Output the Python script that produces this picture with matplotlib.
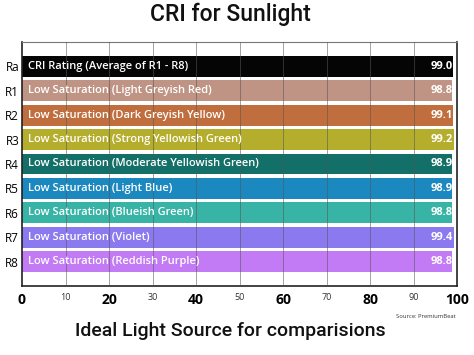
import matplotlib
matplotlib.use("Agg")
import matplotlib.pyplot as plt

codes = ["Ra", "R1", "R2", "R3", "R4", "R5", "R6", "R7", "R8"]
names = ["CRI Rating (Average of R1 - R8)",
         "Low Saturation (Light Greyish Red)",
         "Low Saturation (Dark Greyish Yellow)",
         "Low Saturation (Strong Yellowish Green)",
         "Low Saturation (Moderate Yellowish Green)",
         "Low Saturation (Light Blue)",
         "Low Saturation (Blueish Green)",
         "Low Saturation (Violet)",
         "Low Saturation (Reddish Purple)"]
values = [99.0, 98.8, 99.1, 99.2, 98.9, 98.9, 98.8, 99.4, 98.8]
colors = ["#050505", "#c09484", "#c06e3e", "#b5ad2c", "#137068",
          "#1b88bf", "#38b4a6", "#8b7aef", "#c37af5"]
xticks = [0, 10, 20, 30, 40, 50, 60, 70, 80, 90, 100]

plt.rcParams['font.family'] = ['Open Sans', 'DejaVu Sans']

fig = plt.figure(figsize=(4.74, 3.55), dpi=100)
ax = fig.add_axes([22/474, 69/355, 435/474, 244/355])

ypos = list(range(len(codes)))
ax.barh(ypos, values, height=0.86, color=colors, zorder=2)
ax.set_xlim(0, 100)
ax.set_ylim(9.0, -1.0)

for y, name, v in zip(ypos, names, values):
    ax.text(1.4, y, name, color="white", fontsize=8.0, va="center", ha="left",
            fontweight="semibold", zorder=4)
    ax.text(99.0, y, f"{v:.1f}", color="white", fontsize=8.0, va="center",
            ha="right", fontweight="bold", zorder=4)

for x in xticks[1:-1]:
    ax.axvline(x, color="#555555", lw=0.7, alpha=0.55, zorder=3)

ax.set_yticks(ypos)
ax.set_yticklabels(codes, fontsize=8.5)
ax.tick_params(axis="y", length=0, pad=2)
ax.set_xticks(xticks)
ax.set_xticklabels([str(t) for t in xticks])
for t, lab in zip(xticks, ax.get_xticklabels()):
    if t % 20 == 0:
        lab.set_fontsize(10)
        lab.set_fontweight("bold")
    else:
        lab.set_fontsize(6.5)
        lab.set_color("#333333")
ax.tick_params(axis="x", length=0, pad=5)

for s in ["left", "bottom", "right"]:
    ax.spines[s].set_color("#222222")
    ax.spines[s].set_linewidth(1.2)
ax.spines["top"].set_color("#777777")
ax.spines["top"].set_linewidth(0.8)

fig.text(230/474, 1 - 14/355, "CRI for Sunlight", ha="center", va="center",
         fontsize=16.5, fontweight="medium", color="#111111",
         family=["Roboto", "DejaVu Sans"])
fig.text(230/474, 1 - 331/355, "Ideal Light Source for comparisions",
         ha="center", va="center", fontsize=14, fontweight="medium",
         color="#111111", family=["Roboto", "DejaVu Sans"])
fig.text(456/474, 1 - 316/355, "Source: PremiumBeat", ha="right", va="center",
         fontsize=4.2, color="#333333")

fig.savefig("out.png", dpi=100)
